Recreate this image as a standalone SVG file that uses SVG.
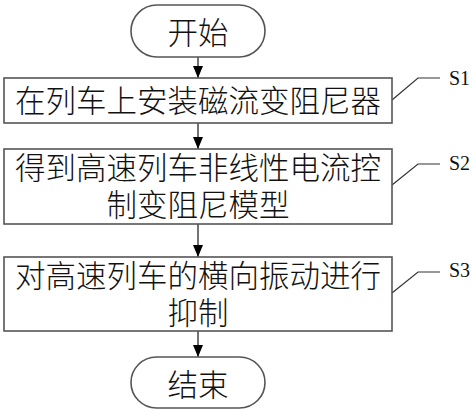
<svg xmlns="http://www.w3.org/2000/svg" width="474" height="414" viewBox="0 0 474 414">
<defs>
<marker id="arr" viewBox="0 0 12 10" refX="12" refY="5" markerWidth="12" markerHeight="10" markerUnits="userSpaceOnUse" orient="auto">
<path d="M0,0 L12,5 L0,10 Z" fill="#000"/>
</marker>
<style>
.box{fill:#fff;stroke:#555;stroke-width:1.6}
.t{font-family:"Noto Sans CJK SC","Noto Sans CJK JP",sans-serif;font-size:30.5px;font-weight:300;fill:#111;text-anchor:middle;dominant-baseline:central}
.lbl{font-family:"Liberation Serif",serif;font-size:20px;fill:#111}
.c{stroke:#444;stroke-width:1.5;fill:none}
.ld{stroke:#333;stroke-width:1.2;fill:none}
</style>
</defs>
<rect width="474" height="414" fill="#fff"/>
<g id="connectors">
<line class="c" x1="198" y1="57" x2="198" y2="78" marker-end="url(#arr)"/>
<line class="c" x1="198" y1="123" x2="198" y2="149" marker-end="url(#arr)"/>
<line class="c" x1="198" y1="224" x2="198" y2="257" marker-end="url(#arr)"/>
<line class="c" x1="198" y1="331" x2="198" y2="357" marker-end="url(#arr)"/>
<polyline class="ld" points="392,100 418,78 440,78"/>
<polyline class="ld" points="392,185 418,164 440,164"/>
<polyline class="ld" points="392,293 418,272 440,272"/>
</g>
<g id="start">
<rect class="box" x="131" y="5" width="134" height="52" rx="26" ry="26"/>
<text class="t" x="198" y="31">开始</text>
</g>
<g id="s1">
<rect class="box" x="4" y="78" width="388" height="45"/>
<text class="t" x="198" y="99">在列车上安装磁流变阻尼器</text>
<text class="lbl" x="449" y="85">S1</text>
</g>
<g id="s2">
<rect class="box" x="4" y="149" width="388" height="75"/>
<text class="t" x="198" y="166"><tspan x="198" y="166">得到高速列车非线性电流控</tspan><tspan x="198" y="203">制变阻尼模型</tspan></text>
<text class="lbl" x="449" y="170">S2</text>
</g>
<g id="s3">
<rect class="box" x="4" y="257" width="388" height="74"/>
<text class="t" x="198" y="274"><tspan x="198" y="274">对高速列车的横向振动进行</tspan><tspan x="198" y="311">抑制</tspan></text>
<text class="lbl" x="449" y="277">S3</text>
</g>
<g id="end">
<rect class="box" x="131" y="357" width="134" height="51" rx="25.5" ry="25.5"/>
<text class="t" x="198" y="383">结束</text>
</g>
</svg>
